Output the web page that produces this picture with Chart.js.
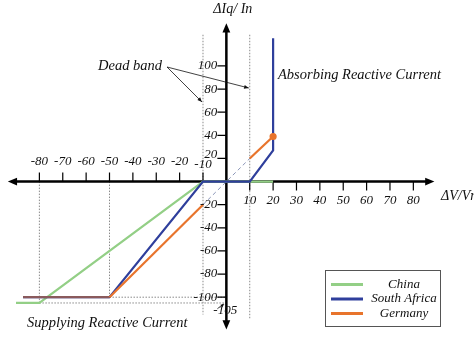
<!DOCTYPE html>
<html>
<head>
<meta charset="utf-8">
<script src="https://cdn.jsdelivr.net/npm/chart.js@4"></script>
<style>
  html, body { margin: 0; padding: 0; background: #fff; }
</style>
</head>
<body>
<canvas id="chart" width="474" height="339"></canvas>
<script>
// curves (ΔV/Vn in %, ΔIq/In in %)
const seriesNames = ["China", "South Africa", "Germany"];
const chinaV = [-90, -80, -10, 20];
const chinaIq = [-105, -105, 0, 0];
const southAfricaV = [-87, -50, -10, 10, 20, 20];
const southAfricaIq = [-100, -100, 0, 0, 27, 124];
const germanyV = [-87, -50, -10, 0, 10, 20];
const germanyIq = [-100, -100, -20, null, 20, 39];
const slopeV = [-10, 10];
const slopeIq = [-20, 20];

// tick labels
const xTicksNeg = [-80, -70, -60, -50, -40, -30, -20, -10];
const xTicksPos = [10, 20, 30, 40, 50, 60, 70, 80];
const yTicksPos = [20, 40, 60, 80, 100];
const yTicksNeg = [-20, -40, -60, -80, -100];
const deadBand = [-10, 10];
const limitV = [-80, -50];
const limitIq = [-105, -100];

const colors = { china: "#93cf86", sa: "#2f3f9c", de: "#e8742c", mix: "#8a5a5c" };
const FONT = "'Liberation Serif', 'DejaVu Serif', serif";

function pts(xs, ys) {
    return xs.map((x, i) => ({ x: x, y: ys[i] }));
}

function arrowHead(ctx, x1, y1, x2, y2, size) {
    let a = Math.atan2(y2 - y1, x2 - x1);
    ctx.beginPath();
    ctx.moveTo(x2, y2);
    ctx.lineTo(x2 - size * Math.cos(a - 0.4), y2 - size * Math.sin(a - 0.4));
    ctx.lineTo(x2 - size * Math.cos(a + 0.4), y2 - size * Math.sin(a + 0.4));
    ctx.closePath();
    ctx.fill();
}

function line(ctx, x1, y1, x2, y2) {
    ctx.beginPath();
    ctx.moveTo(x1, y1);
    ctx.lineTo(x2, y2);
    ctx.stroke();
}

// axes, ticks and guide lines under the curves
const axesPlugin = {
    id: "axes",
    beforeDatasetsDraw(chart) {
        const ctx = chart.ctx;
        const sx = chart.scales.x, sy = chart.scales.y;
        const X = v => sx.getPixelForValue(v);
        const Y = v => sy.getPixelForValue(v);
        ctx.save();

        // dotted guide lines
        ctx.strokeStyle = "#8a8a8a";
        ctx.lineWidth = 1;
        ctx.setLineDash([1.5, 1.5]);
        line(ctx, X(deadBand[0]), Y(127), X(deadBand[0]), Y(-115));
        line(ctx, X(deadBand[1]), Y(127), X(deadBand[1]), Y(-119));
        line(ctx, X(limitV[0]), Y(0), X(limitV[0]), Y(limitIq[0]));
        line(ctx, X(limitV[1]), Y(0), X(limitV[1]), Y(limitIq[1]));
        line(ctx, X(limitV[0]), Y(limitIq[0]), X(0), Y(limitIq[0]));
        line(ctx, X(limitV[1]), Y(limitIq[1]), X(0), Y(limitIq[1]));
        ctx.setLineDash([]);

        // main axes
        ctx.strokeStyle = "#000";
        ctx.fillStyle = "#000";
        ctx.lineWidth = 2.5;
        ctx.beginPath();
        ctx.moveTo(X(-91), Y(0));
        ctx.lineTo(X(86), Y(0));
        ctx.moveTo(X(0), Y(131));
        ctx.lineTo(X(0), Y(-121));
        ctx.stroke();
        arrowHead(ctx, X(0), Y(0), X(-93.5), Y(0), 10);
        arrowHead(ctx, X(0), Y(0), X(89), Y(0), 10);
        arrowHead(ctx, X(0), Y(0), X(0), Y(137), 10);
        arrowHead(ctx, X(0), Y(0), X(0), Y(-128), 10);

        // tick marks
        ctx.lineWidth = 1.2;
        ctx.beginPath();
        xTicksNeg.forEach(v => { ctx.moveTo(X(v), Y(0)); ctx.lineTo(X(v), Y(0) - 9); });
        xTicksPos.forEach(v => { ctx.moveTo(X(v), Y(0)); ctx.lineTo(X(v), Y(0) + 9); });
        yTicksPos.concat(yTicksNeg).forEach(v => { ctx.moveTo(X(0), Y(v)); ctx.lineTo(X(0) - 9, Y(v)); });
        ctx.stroke();
        ctx.restore();
    },
    afterDraw(chart) {
        const ctx = chart.ctx;
        const sx = chart.scales.x, sy = chart.scales.y;
        const X = v => sx.getPixelForValue(v);
        const Y = v => sy.getPixelForValue(v);
        ctx.save();
        ctx.fillStyle = "#111";
        ctx.strokeStyle = "#111";

        // tick labels
        ctx.font = "italic 13px " + FONT;
        ctx.textAlign = "center";
        ctx.textBaseline = "middle";
        xTicksNeg.forEach(v => ctx.fillText(String(v), X(v), Y(0) - (v === -10 ? 17 : 20)));
        xTicksPos.forEach(v => ctx.fillText(String(v), X(v), Y(0) + 19));
        ctx.textAlign = "right";
        yTicksPos.concat(yTicksNeg).forEach(v => ctx.fillText(String(v), X(0) - 9, Y(v) + (v === 20 ? -4 : 0)));
        ctx.textAlign = "left";
        ctx.fillText("-105", X(0) - 13, Y(-112));
        ctx.lineWidth = 0.8;
        line(ctx, X(0) - 9, Y(-110), X(0) - 3, Y(-105) + 1);
        arrowHead(ctx, X(0) - 9, Y(-110), X(0) - 2, Y(-105) + 1, 4);

        // axis titles
        ctx.font = "italic 14px " + FONT;
        ctx.fillText("ΔIq/ In", X(0) - 13, 9);
        ctx.fillText("ΔV/Vn", 441, Y(0) + 15);

        // annotations
        ctx.font = "italic 14.5px " + FONT;
        ctx.fillText("Dead band", 98, 66);
        ctx.fillText("Absorbing Reactive Current", 278, 75);
        ctx.fillText("Supplying Reactive Current", 27, 323);
        ctx.lineWidth = 0.8;
        line(ctx, 167, 67, X(deadBand[0]) - 1, 102);
        line(ctx, 167, 67, X(deadBand[1]) - 1, 88);
        arrowHead(ctx, 167, 67, X(deadBand[0]) - 1, 102, 5);
        arrowHead(ctx, 167, 67, X(deadBand[1]) - 1, 88, 5);

        // legend box
        ctx.fillStyle = "#fff";
        ctx.fillRect(325, 270, 115, 56);
        ctx.strokeStyle = "#555";
        ctx.lineWidth = 1;
        ctx.strokeRect(325.5, 270.5, 115, 56);
        const legendColors = [colors.china, colors.sa, colors.de];
        ctx.font = "italic 13px " + FONT;
        ctx.textAlign = "center";
        seriesNames.forEach((name, i) => {
            const yy = 284.5 + i * 14.5;
            ctx.strokeStyle = legendColors[i];
            ctx.lineWidth = 3;
            line(ctx, 331, yy, 363, yy);
            ctx.fillStyle = "#111";
            ctx.fillText(name, 404, yy);
        });
        ctx.restore();
    }
};

new Chart(document.getElementById("chart"), {
    type: "scatter",
    data: {
        datasets: [
            {
                label: seriesNames[2],
                data: pts(germanyV, germanyIq),
                showLine: true,
                borderColor: colors.de,
                backgroundColor: colors.de,
                borderWidth: 2.2,
                pointRadius: ctx => ctx.dataIndex === germanyV.length - 1 ? 2.5 : 0,
                segment: { borderColor: ctx => ctx.p0DataIndex === 0 ? colors.mix : colors.de },
                order: 0
            },
            {
                label: seriesNames[1],
                data: pts(southAfricaV, southAfricaIq),
                showLine: true,
                borderColor: colors.sa,
                borderWidth: 2.2,
                pointRadius: 0,
                order: 1
            },
            {
                label: seriesNames[0],
                data: pts(chinaV, chinaIq),
                showLine: true,
                borderColor: colors.china,
                borderWidth: 2.2,
                pointRadius: 0,
                order: 2
            },
            {
                label: "slope",
                data: pts(slopeV, slopeIq),
                showLine: true,
                borderColor: "#6d7ba6",
                borderWidth: 0.8,
                borderDash: [4, 3],
                pointRadius: 0,
                order: 3
            }
        ]
    },
    options: {
        responsive: false,
        animation: false,
        layout: { padding: 0 },
        plugins: { legend: { display: false }, tooltip: { enabled: false } },
        scales: {
            x: { type: "linear", min: -94.2, max: 103.3, display: false },
            y: { type: "linear", min: -130.8, max: 151.7, display: false }
        }
    },
    plugins: [axesPlugin]
});
</script>
</body>
</html>
